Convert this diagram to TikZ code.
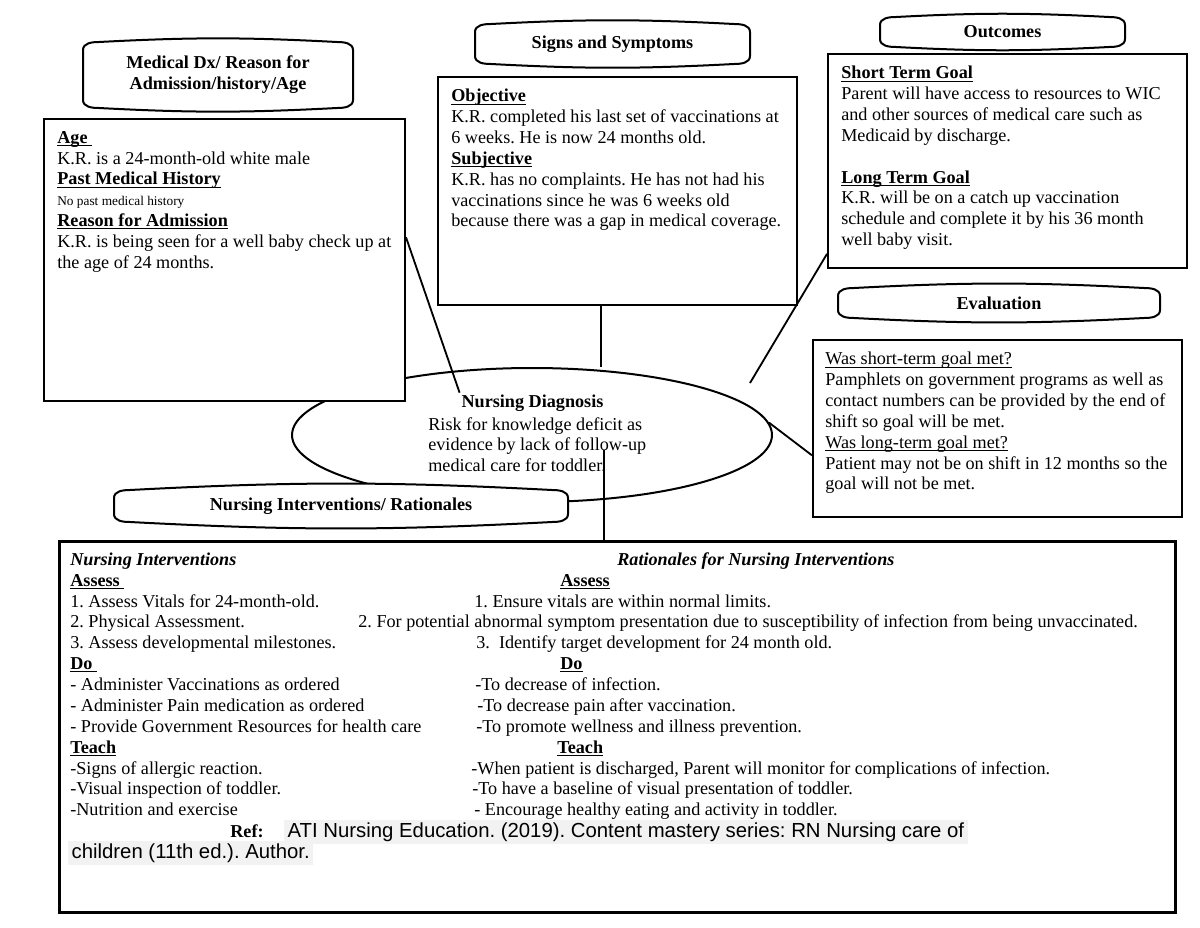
\documentclass[tikz,border=0pt]{standalone}
\usepackage{fontspec}
\setmainfont{Liberation Serif}
\newfontfamily\refsans{Liberation Sans}
\usetikzlibrary{shapes.geometric,calc}

\newsavebox\ulbox
\newcommand{\uln}[1]{\sbox\ulbox{#1}\rlap{\rule[-1.6pt]{\wd\ulbox}{0.5pt}}\usebox\ulbox}

\tikzset{
  card/.style={draw, fill=white, line width=1.2pt, inner sep=0pt},
  tabline/.style={draw, fill=white, line width=1.2pt},
  tabtext/.style={font=\fontsize{10.9}{12.5}\selectfont\bfseries, align=center},
  body/.style={font=\fontsize{10.9}{12.5}\selectfont, align=left, inner sep=0pt, anchor=north west},
  row/.style={font=\fontsize{10.9}{12.5}\selectfont, inner sep=0pt, anchor=base west},
  link/.style={line width=1.1pt},
  cite/.style={font=\refsans\fontsize{12.2}{14}\selectfont, fill=black!5, inner xsep=2pt, inner ysep=1pt, anchor=west, text height=9.5pt, text depth=3pt}
}

\newcommand{\tabbox}[6]{%
  \path[tabline] (#2,#3+8) to[out=90,in=180] (#2+16,#3) to[bend left=3] (#4-16,#3)
    to[out=0,in=90] (#4,#3+8) -- (#4,#5-8) to[out=-90,in=0] (#4-16,#5)
    to[bend left=3] (#2+16,#5) to[out=180,in=-90] (#2,#5-8) -- cycle;
  \node[tabtext] (#1) at ({(#2+#4)/2},{(#3+#5)/2}) {#6};}

\begin{document}
\frenchspacing
\begin{tikzpicture}[x=0.6pt, y=-0.6pt]
\useasboundingbox (0,0) rectangle (1200,927);
\node[ellipse, draw, line width=1.2pt, minimum width=288pt, minimum height=80.4pt, inner sep=0pt] (dx) at (532,435) {};
\node[card, minimum width=216.6pt, minimum height=169.2pt] (mdx) at (224.5,260) {};
\node[card, minimum width=215.4pt, minimum height=136.8pt] (sx) at (617.5,191) {};
\node[card, minimum width=215.4pt, minimum height=128.4pt] (ox) at (1007.5,161) {};
\node[card, minimum width=221.4pt, minimum height=106.2pt] (ex) at (997.5,428.5) {};
\node[card, line width=1.8pt, minimum width=669.6pt, minimum height=222.6pt] (care) at (617,726.5) {};

\tabbox{dxtab}{83}{42}{353}{108}{Medical Dx/ Reason for\\Admission/history/Age}
\tabbox{stab}{475}{24}{750}{64}{Signs and Symptoms}
\tabbox{otab}{880}{17}{1125}{47}{Outcomes}
\tabbox{etab}{838}{288}{1160}{318}{Evaluation}
\tabbox{ntab}{114}{490}{568}{522}{Nursing Interventions/ Rationales}

\node[body] (mdxtext) at (57,131) {\uln{\textbf{Age}\ }\\
K.R.\ is a 24-month-old white male\\
\uln{\textbf{Past Medical History}}\\
{\fontsize{8}{9.6}\selectfont No past medical history}\\
\uln{\textbf{Reason for Admission}}\\
K.R.\ is being seen for a well baby check up at\\
the age of 24 months.};
\node[body] (sxtext) at (451,89) {\uln{\textbf{Objective}}\\
K.R.\ completed his last set of vaccinations at\\
6 weeks. He is now 24 months old.\\
\uln{\textbf{Subjective}}\\
K.R.\ has no complaints. He has not had his\\
vaccinations since he was 6 weeks old\\
because there was a gap in medical coverage.};
\node[body] (oxtext) at (841,66) {\uln{\textbf{Short Term Goal}}\\
Parent will have access to resources to WIC\\
and other sources of medical care such as\\
Medicaid by discharge.\\[12.5pt]
\uln{\textbf{Long Term Goal}}\\
K.R.\ will be on a catch up vaccination\\
schedule and complete it by his 36 month\\
well baby visit.};
\node[body] (extext) at (825,352) {\uln{Was short-term goal met?}\\
Pamphlets on government programs as well as\\
contact numbers can be provided by the end of\\
shift so goal will be met.\\
\uln{Was long-term goal met?}\\
Patient may not be on shift in 12 months so the\\
goal will not be met.};

\node[tabtext, inner sep=1pt] (ndx) at (532.5,403) {Nursing Diagnosis};
\node[body] (ndxtext) at (428,417) {Risk for knowledge deficit as\\
evidence by lack of follow-up\\
medical care for toddler.};

\foreach \y/\txt [count=\i] in {
  560/{\textbf{\textit{Nursing Interventions}}},
  581/{\uln{\textbf{Assess}\ }},
  602/{1. Assess Vitals for 24-month-old.},
  622/{2. Physical Assessment.},
  643/{3. Assess developmental milestones.},
  664/{\uln{\textbf{Do}\ }},
  685/{- Administer Vaccinations as ordered},
  706/{- Administer Pain medication as ordered},
  727/{- Provide Government Resources for health care},
  748/{\uln{\textbf{Teach}}},
  769/{-Signs of allergic reaction.},
  789/{-Visual inspection of toddler.},
  810/{-Nutrition and exercise}}
  \node[row] (ni\i) at (70,\y+5) {\txt};
\foreach \x/\y/\txt [count=\i] in {
  617/560/{\textbf{\textit{Rationales for Nursing Interventions}}},
  560/581/{\uln{\textbf{Assess}}},
  474/602/{1. Ensure vitals are within normal limits.},
  358/622/{2. For potential abnormal symptom presentation due to susceptibility of infection from being unvaccinated.},
  476/643/{3.\ \ Identify target development for 24 month old.},
  560/664/{\uln{\textbf{Do}}},
  475/685/{-To decrease of infection.},
  477/706/{-To decrease pain after vaccination.},
  476/727/{-To promote wellness and illness prevention.},
  557/748/{\uln{\textbf{Teach}}},
  471/769/{-When patient is discharged, Parent will monitor for complications of infection.},
  472/789/{-To have a baseline of visual presentation of toddler.},
  474/810/{- Encourage healthy eating and activity in toddler.}}
  \node[row] (rat\i) at (\x,\y+5) {\txt};

\node[row, font=\fontsize{10.9}{12.5}\selectfont\bfseries] (refmark) at (230,837) {Ref:};
\node[cite] (cite1) at (284,832) {ATI Nursing Education. (2019). Content mastery series: RN Nursing care of};
\node[cite] (cite2) at (68,853) {children (11th ed.). Author.};

\coordinate (sdrop) at (601,0);
\coordinate (ohook) at (750,383);
\coordinate (ttail) at (604,450);
\draw[link] ($(mdx.north east)!0.42!(mdx.south east)$) -- (ndx.north west);
\draw[link] (sx.south -| sdrop) -- (dx.north -| sdrop);
\draw[link] ($(ox.north west)!0.93!(ox.south west)$) -- (ohook);
\draw[link] (dx.3) -- ($(ex.north west)!0.65!(ex.south west)$);
\draw[link] (ttail) -- (care.north -| ttail);
\end{tikzpicture}
\end{document}
